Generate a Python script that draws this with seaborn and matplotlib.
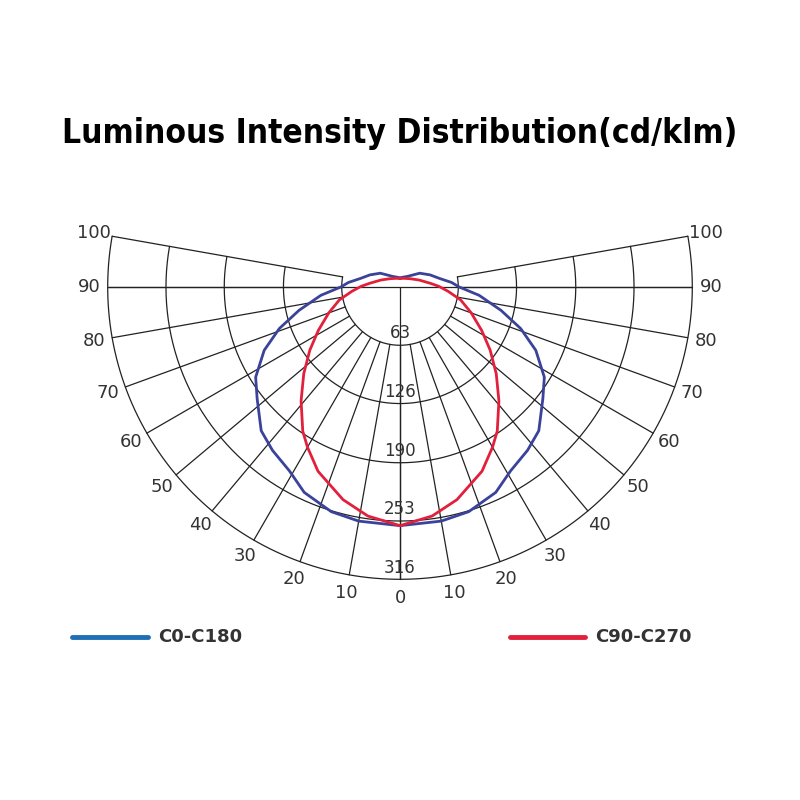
import numpy as np
import matplotlib
matplotlib.use("Agg")
import matplotlib.pyplot as plt
import seaborn as sns
import pandas as pd

sns.set_style("white")

# data (angle from nadir in degrees, intensity in cd/klm)
ang_c0 = [0, 10, 17, 25, 31, 38, 44, 52, 58, 65, 71, 77, 84, 90, 95, 102, 112, 125, 145, 180]
val_c0 = [258, 257, 254, 245, 232, 224, 216, 196, 184, 162, 138, 112, 86, 64, 56, 44, 35, 26, 14, 10]
ang_c90 = [0, 8, 15, 24, 30, 34, 41, 48, 55, 62, 70, 78, 85, 91, 97, 110, 130, 160, 180]
val_c90 = [258, 250, 238, 218, 200, 188, 163, 140, 119, 100, 82, 67, 52, 42, 33, 22, 14, 10, 9]
ring_values = [63, 126, 190, 253, 316]
angle_labels = list(range(0, 101, 10))
series_names = ["C0-C180", "C90-C270"]

S = 0.925  # px per cd
fig = plt.figure(figsize=(8, 8), dpi=100)
ax = fig.add_axes([0, 0, 1, 1])

def xy(a_deg, r):
    a = np.radians(a_deg)
    return r * np.sin(a), -r * np.cos(a)

gc = "#222222"
th = np.linspace(-100, 100, 300)
for rv in ring_values:
    x, y = xy(th, rv)
    ax.plot(x, y, color=gc, lw=0.9)
for a in range(-100, 101, 10):
    x, y = xy(np.array([a, a]), np.array([ring_values[0], ring_values[-1]]))
    ax.plot(x, y, color=gc, lw=0.9)
ax.plot([0, 0], [0, -ring_values[-1]], color=gc, lw=0.9)
ax.plot([-ring_values[-1], ring_values[-1]], [0, 0], color=gc, lw=0.9)

for a in angle_labels:
    for s in ([1, -1] if a else [1]):
        x, y = xy(s * a, 336)
        ax.text(x, y, str(a), ha="center", va="center", fontsize=13, color="#333333")
for rv in ring_values:
    ax.text(0, -rv + 3, str(rv), ha="center", va="bottom", fontsize=12, color="#333333")

def curve(angs, vals):
    a = np.array(angs + [-v for v in angs[::-1]])
    r = np.array(vals + vals[::-1])
    x, y = xy(a, r)
    return pd.DataFrame({"x": x, "y": y})

d1 = curve(ang_c0, val_c0)
d2 = curve(ang_c90, val_c90)
sns.lineplot(data=d1, x="x", y="y", sort=False, estimator=None, color="#3a429a", lw=2, ax=ax)
sns.lineplot(data=d2, x="x", y="y", sort=False, estimator=None, color="#e3203c", lw=2, ax=ax)
ax.set_xlim(-400 / S, 400 / S)
ax.set_ylim(-513 / S, 287 / S)
ax.axis("off")

fig.text(0.5, 1 - 133 / 800, "Luminous Intensity Distribution(cd/klm)", ha="center", va="center",
         fontsize=24, fontweight="bold", fontstretch="condensed", family="DejaVu Sans", color="black")

yl = 1 - 637 / 800
fig.add_artist(plt.Line2D([72 / 800, 148 / 800], [yl, yl], color="#1f6fb5", lw=3.5))
fig.text(158 / 800, yl, series_names[0], va="center", fontsize=13, fontweight="bold", color="#333333")
fig.add_artist(plt.Line2D([510 / 800, 585 / 800], [yl, yl], color="#e3203c", lw=3.5))
fig.text(595 / 800, yl, series_names[1], va="center", fontsize=13, fontweight="bold", color="#333333")

fig.savefig("out.png", dpi=100, facecolor="white")
